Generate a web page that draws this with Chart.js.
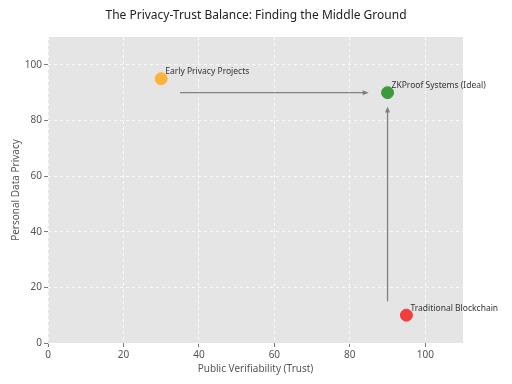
<!DOCTYPE html>
<html>
<head>
  <meta charset="utf-8" />
  <title>The Privacy-Trust Balance</title>
  <script src="https://cdn.jsdelivr.net/npm/chart.js"></script>
  <style>
    body { margin: 0; background: #fff; }
    #chart { display: block; }
  </style>
</head>
<body>
  <canvas id="chart" width="512" height="384"></canvas>

  <script>
  // point data
  const names = ['Early Privacy Projects', 'ZKProof Systems (Ideal)', 'Traditional Blockchain'];
  const trust = [30, 90, 95];
  const privacy = [95, 90, 10];
  const colors = ['#fbb33a', '#3c9a3c', '#f23d3d'];

  // arrows: [x0, y0] -> [x1, y1]
  const arrowFrom = [[35, 90], [90, 15]];
  const arrowTo = [[85, 90], [90, 85]];

  const tickVals = [0, 20, 40, 60, 80, 100];
  const titleText = 'The Privacy-Trust Balance: Finding the Middle Ground';
  const fontFam = '"Noto Sans", sans-serif';

  // gray plot background + centred title
  const bgPlugin = {
    id: 'bg',
    beforeDraw(chart) {
      const { ctx, chartArea: a } = chart;
      ctx.save();
      ctx.fillStyle = '#e5e5e5';
      ctx.fillRect(a.left, a.top, a.right - a.left, a.bottom - a.top);
      ctx.fillStyle = '#222';
      ctx.font = '12px ' + fontFam;
      ctx.textAlign = 'center';
      ctx.textBaseline = 'middle';
      ctx.fillText(titleText, chart.width / 2, 16);
      ctx.restore();
    }
  };

  // arrows and point labels
  const notePlugin = {
    id: 'notes',
    afterDatasetsDraw(chart) {
      const { ctx } = chart;
      const xs = chart.scales.x, ys = chart.scales.y;
      ctx.save();
      ctx.strokeStyle = '#808080';
      ctx.fillStyle = '#808080';
      ctx.lineWidth = 1.3;
      arrowFrom.forEach((f, i) => {
        const x0 = xs.getPixelForValue(f[0]), y0 = ys.getPixelForValue(f[1]);
        const x1 = xs.getPixelForValue(arrowTo[i][0]), y1 = ys.getPixelForValue(arrowTo[i][1]);
        const ang = Math.atan2(y1 - y0, x1 - x0);
        ctx.beginPath();
        ctx.moveTo(x0, y0);
        ctx.lineTo(x1 - 5 * Math.cos(ang), y1 - 5 * Math.sin(ang));
        ctx.stroke();
        ctx.beginPath();
        ctx.moveTo(x1, y1);
        ctx.lineTo(x1 - 6 * Math.cos(ang) + 2.5 * Math.sin(ang), y1 - 6 * Math.sin(ang) - 2.5 * Math.cos(ang));
        ctx.lineTo(x1 - 6 * Math.cos(ang) - 2.5 * Math.sin(ang), y1 - 6 * Math.sin(ang) + 2.5 * Math.cos(ang));
        ctx.closePath();
        ctx.fill();
      });
      ctx.fillStyle = '#333';
      ctx.font = '8.5px ' + fontFam;
      ctx.textBaseline = 'middle';
      ctx.textAlign = 'left';
      names.forEach((n, i) => {
        const px = xs.getPixelForValue(trust[i]), py = ys.getPixelForValue(privacy[i]);
        ctx.fillText(n, px + 4, py - 7);
      });
      ctx.restore();
    }
  };

  const axisCommon = {
    type: 'linear',
    min: 0,
    max: 110,
    afterBuildTicks: s => { s.ticks = tickVals.map(v => ({ value: v })); },
    grid: { color: '#ffffff', lineWidth: 0.8, tickColor: '#555', tickLength: 4 },
    border: { display: false, dash: [3, 3] },
    ticks: { color: '#555', font: { family: fontFam, size: 10 }, padding: 2 }
  };

  new Chart(document.getElementById('chart'), {
    type: 'scatter',
    data: {
      datasets: [{
        data: trust.map((t, i) => ({ x: t, y: privacy[i] })),
        backgroundColor: colors,
        borderColor: colors,
        pointRadius: 6,
        pointHoverRadius: 6
      }]
    },
    options: {
      responsive: false,
      animation: false,
      layout: { padding: { top: 37, right: 49 } },
      plugins: {
        legend: { display: false },
        tooltip: { enabled: false },
        title: { display: false }
      },
      scales: {
        x: Object.assign({}, axisCommon, {
          title: { display: true, text: 'Public Verifiability (Trust)', color: '#555', font: { family: fontFam, size: 10 }, padding: { top: 0, bottom: 9 } },
          afterFit: s => { s.height = 41; }
        }),
        y: Object.assign({}, axisCommon, {
          title: { display: true, text: 'Personal Data Privacy', color: '#555', font: { family: fontFam, size: 10 }, padding: { top: 10, bottom: 0 } },
          afterFit: s => { s.width = 48; }
        })
      }
    },
    plugins: [bgPlugin, notePlugin]
  });
  </script>
</body>
</html>
